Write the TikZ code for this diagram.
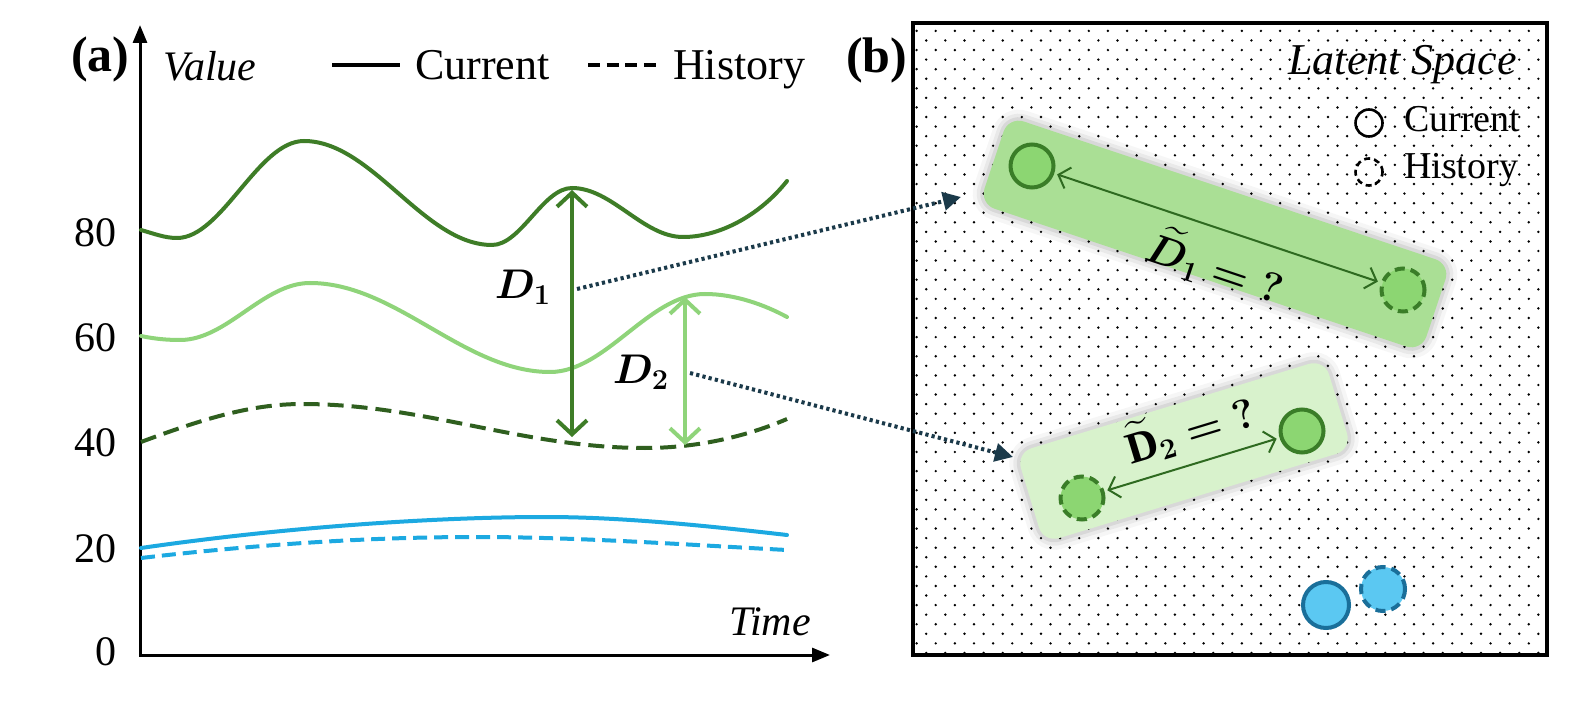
\documentclass[tikz,border=0pt]{standalone}
\usepackage{amsmath,bm}
\usepackage{fontspec}
\setmainfont{Liberation Serif}
\usetikzlibrary{arrows.meta}
\definecolor{dkgreen}{HTML}{3E7D27}
\definecolor{ltgreen}{HTML}{8FD47A}
\definecolor{dashgreen}{HTML}{2F5F1F}
\definecolor{curblue}{HTML}{1CA9E1}
\definecolor{navy}{HTML}{1B3A4A}
\definecolor{boxone}{HTML}{AADF95}
\definecolor{boxtwo}{HTML}{D8F2CC}
\definecolor{ptfill}{HTML}{8CD672}
\definecolor{ptdraw}{HTML}{3A7D28}
\definecolor{arrgreen}{HTML}{2E6A20}
\definecolor{bfill}{HTML}{5BC8F2}
\definecolor{bdraw}{HTML}{1A6F9A}
\begin{document}
\begin{tikzpicture}[x=0.5pt,y=-0.5pt,
  curve/.style={line width=2pt, line join=round, line cap=round},
  dashcurve/.style={line width=2pt, dash pattern=on 8pt off 4pt},
  axisline/.style={line width=1.5pt, line join=miter, {Triangle[length=9pt,width=7pt]}-{Triangle[length=9pt,width=7pt]}},
  tick/.style={anchor=base east, font=\rmfamily\fontsize{21}{25}\selectfont},
  itlabel/.style={anchor=base west, font=\rmfamily\itshape\fontsize{21}{25}\selectfont},
  leglabel/.style={anchor=base west, font=\rmfamily\fontsize{22}{26}\selectfont},
  panel/.style={anchor=base west, font=\rmfamily\bfseries\fontsize{25}{30}\selectfont},
  distarr/.style={line width=2pt, {Straight Barb[length=7pt,width=15pt]}-{Straight Barb[length=7pt,width=15pt]}},
  conn/.style={navy, line width=2pt, dash pattern=on 1.6pt off 1.6pt, -{Triangle[length=9pt,width=9pt]}},
  glow/.style={preaction={draw=black,draw opacity=0.035,line width=11pt},
               preaction={draw=black,draw opacity=0.05,line width=7pt},
               preaction={draw=black,draw opacity=0.07,line width=3.5pt}},
  pairbox/.style={glow, rounded corners=8pt, draw=none},
  pt/.style={circle, inner sep=0pt, minimum size=21.5pt, line width=2pt, draw=ptdraw, fill=ptfill},
  histpt/.style={pt, dash pattern=on 5pt off 3pt},
  bpt/.style={circle, inner sep=0pt, minimum size=23pt, line width=2pt, draw=bdraw, fill=bfill},
  bhist/.style={bpt, minimum size=22pt, dash pattern=on 5pt off 3pt},
  legpt/.style={circle, inner sep=0pt, minimum size=13.5pt, line width=1.3pt, draw=black},
  latarr/.style={arrgreen, line width=1pt, shorten <=1.5pt, shorten >=1.5pt, {Straight Barb[length=5pt,width=11pt]}-{Straight Barb[length=5pt,width=11pt]}},
  dlabel/.style={font=\rmfamily\fontsize{22}{26}\selectfont\boldmath}
]
\fill[white] (0,0) rectangle (1584,716);
\useasboundingbox (0,0) rectangle (1584,716);

% ---------------- panel (a) ----------------
\node[panel] (lblA) at (64,72) {(a)};
\coordinate (Ytop) at (140,25);
\coordinate (O) at (140,655);
\coordinate (Xend) at (830,655);
\draw[axisline] (Ytop) -- (O) -- (Xend);
\node[itlabel] (val) at (156,81) {Value};
\node[itlabel] (time) at (722,635) {Time};

\node[tick] (t80) at (124,247) {80};
\node[tick] (t60) at (124,352) {60};
\node[tick] (t40) at (124,457) {40};
\node[tick] (t20) at (124,562) {20};
\node[tick] (t0)  at (124,665) {0};

% legend
\coordinate (ls1) at (332,65); \coordinate (ls2) at (400,65);
\draw[line width=2pt] (ls1) -- (ls2);
\node[leglabel] (legC) at (408,80) {Current};
\coordinate (ld1) at (588,65); \coordinate (ld2) at (657,65);
\draw[line width=2pt, dash pattern=on 6pt off 3.3pt] (ld1) -- (ld2);
\node[leglabel] (legH) at (666,80) {History};

% curves
\draw[curve, dkgreen] (141,230) .. controls (155,234) and (165,238) .. (177,238)
  .. controls (222,238) and (258,141) .. (304,141)
  .. controls (372,141) and (424,245) .. (492,245)
  .. controls (521,245) and (543,188) .. (572,188)
  .. controls (612,188) and (643,237) .. (683,237)
  .. controls (720,237) and (760,215) .. (787,181);
\draw[curve, ltgreen] (141,336) .. controls (155,339) and (168,340) .. (180,340)
  .. controls (227,340) and (263,283) .. (310,283)
  .. controls (396,283) and (464,372) .. (550,372)
  .. controls (606,372) and (649,294) .. (705,294)
  .. controls (735,294) and (765,305) .. (787,317);
\draw[dashcurve, dashgreen] (141,442) .. controls (200,420) and (250,404) .. (302,404)
  .. controls (425,404) and (522,448) .. (645,448)
  .. controls (700,448) and (750,435) .. (787,419);
\draw[curve, curblue] (141,548) .. controls (300,525) and (450,517) .. (545,517)
  .. controls (620,517) and (700,525) .. (787,535);
\draw[dashcurve, curblue, dash pattern=on 7pt off 3.5pt] (141,558) .. controls (270,543) and (380,537) .. (476,537)
  .. controls (580,537) and (690,545) .. (787,550);

% distance arrows
\coordinate (a1t) at (572,190); \coordinate (a1b) at (572,437);
\draw[distarr, dkgreen] (a1t) -- (a1b);
\coordinate (a2t) at (685,297); \coordinate (a2b) at (685,445);
\draw[distarr, ltgreen] (a2t) -- (a2b);
\node[dlabel] (d1) at (523,287) {$D_1$};
\node[dlabel] (d2) at (641,372) {$D_2$};

% ---------------- panel (b) ----------------
\node[panel] (lblB) at (839,73) {(b)};
% dotted background
\foreach \j in {0,...,65}{
  \pgfmathsetmacro{\yy}{30.9+9.57*\j}
  \ifodd\j \def\xo{926.2}\else\def\xo{916.6}\fi
  \foreach \k in {0,...,32}{\fill[black] (\xo+19.13*\k,\yy) circle[radius=1.35];}
}

\node[font=\rmfamily\itshape\fontsize{22}{26}\selectfont, anchor=base east] (lat) at (1524,75) {Latent Space};
\node[legpt] (lc) at (1369,123) {};
\node[leglabel, font=\rmfamily\fontsize{19}{23}\selectfont] (lcT) at (1397,132) {Current};
\node[legpt, dash pattern=on 3pt off 2pt] (lh) at (1369,172) {};
\node[leglabel, font=\rmfamily\fontsize{19}{23}\selectfont] (lhT) at (1397,179) {History};

% pair 1
\node[pairbox, fill=boxone, rotate=-18.5, minimum width=233pt, minimum height=46pt] (box1) at (1215,234) {};
\node[pt] (c1) at (1032,166) {};
\node[histpt] (c2) at (1403,290) {};
\draw[latarr] (c1) -- (c2);
\node[dlabel, rotate=-18.5] (e1) at (1216,266) {$\widetilde{D}_1 = \mathbf{?}$};

% pair 2
\node[pairbox, fill=boxtwo, rotate=16.9, minimum width=161pt, minimum height=47pt] (box2) at (1184,451) {};
\node[histpt] (c3) at (1082,498) {};
\node[pt] (c4) at (1302,431) {};
\draw[latarr] (c3) -- (c4);
\node[dlabel, rotate=16.9] (e2) at (1190,428) {$\widetilde{\mathrm{D}}_2 = \mathbf{?}$};

% blue pair
\node[bpt] (b1) at (1326,605) {};
\node[bhist] (b2) at (1383,589) {};

% frame
\draw[line width=2pt] (913,23) rectangle (1547,655);

% connectors
\coordinate (s1) at (577,289); \coordinate (t1) at (961,197);
\draw[conn] (s1) -- (t1);
\coordinate (s2) at (690,373); \coordinate (t2) at (1013,457);
\draw[conn] (s2) -- (t2);
\end{tikzpicture}
\end{document}
